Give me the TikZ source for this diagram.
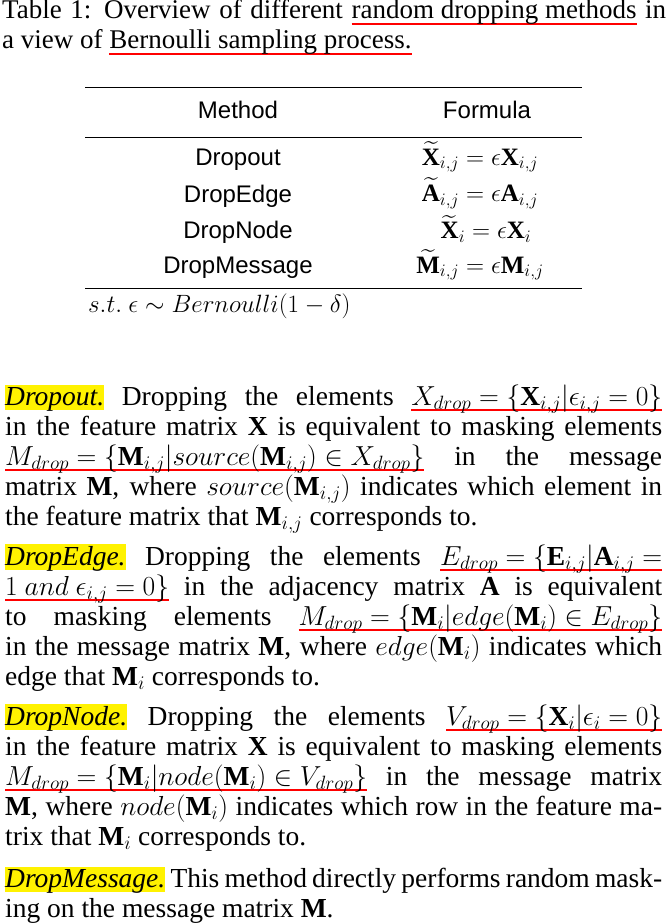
\RequirePackage{fix-cm}
\documentclass[tikz,border=0pt]{standalone}
\usepackage{amsmath}
\usepackage{fontspec}
\setmainfont{Liberation Serif}
\newfontfamily\tabsans{Liberation Sans}
\newcommand\rul[1]{\setbox0\hbox{#1}\rlap{\textcolor{red}{\rule[-6pt]{\wd0}{1.6pt}}}\box0\relax}
\newcommand\hlt[1]{\setbox0\hbox{#1}\rlap{\textcolor{yellow}{\rule[-5pt]{\wd0}{\dimexpr\ht0+7pt}}}\box0\relax}
\tikzset{ln/.style={anchor=base west,inner sep=0pt,font=\fontsize{27.5}{30}\selectfont},
 tb/.style={inner sep=0pt,font=\tabsans\fontsize{24}{28}\selectfont},
 fm/.style={inner sep=0pt,font=\fontsize{25}{28}\selectfont},
 rulel/.style={line width=1pt}}
\newcommand\J[1]{\makebox[657pt][s]{#1}}
\begin{document}
\begin{tikzpicture}[x=1pt,y=-1pt]
\useasboundingbox (0,0) rectangle (670,923);
\fill[white] (0,0) rectangle (670,923);
% caption
\node[ln,font=\fontsize{27}{30}\selectfont] (c1) at (2,19) {\makebox[664pt][s]{Table 1: Overview of different \rul{random dropping methods} in}};
\node[ln,font=\fontsize{27}{30}\selectfont] (c2) at (2,49) {a view of \rul{Bernoulli sampling process.}};
% table
\draw[rulel] (85,88) -- (582,88);
\draw[rulel] (85,137) -- (582,137);
\draw[rulel] (85,288) -- (582,288);
\node[tb] (h1) at (238,110) {Method};
\node[tb] (h2) at (487,110) {Formula};
\node[tb] (m1) at (238,160) {Dropout};
\node[tb] (m2) at (238,196) {DropEdge};
\node[tb] (m3) at (238,232) {DropNode};
\node[tb] (m4) at (238,268) {DropMessage};
\node[fm] (f1) at (480,157) {$\widetilde{\mathbf{X}}_{i,j}=\epsilon\mathbf{X}_{i,j}$};
\node[fm] (f2) at (480,193) {$\widetilde{\mathbf{A}}_{i,j}=\epsilon\mathbf{A}_{i,j}$};
\node[fm] (f3) at (486,229) {$\widetilde{\mathbf{X}}_{i}=\epsilon\mathbf{X}_{i}$};
\node[fm] (f4) at (480,265) {$\widetilde{\mathbf{M}}_{i,j}=\epsilon\mathbf{M}_{i,j}$};
\node[ln,font=\fontsize{25}{28}\selectfont] (st) at (88,312) {$s.t.\ \epsilon\sim Bernoulli(1-\delta)$};
% para 1
\node[ln] (a1) at (5,405) {\J{\hlt{\textit{Dropout.}}\ Dropping the elements \rul{$X_{drop}=\{\mathbf{X}_{i,j}|\epsilon_{i,j}=0\}$}}};
\node[ln] (a2) at (5,435) {\J{in the feature matrix $\mathbf{X}$ is equivalent to masking elements}};
\node[ln] (a3) at (5,465) {\J{\rul{$M_{drop}=\{\mathbf{M}_{i,j}|source(\mathbf{M}_{i,j})\in X_{drop}\}$} in the message}};
\node[ln] (a4) at (5,495) {\J{matrix $\mathbf{M}$, where $source(\mathbf{M}_{i,j})$ indicates which element in}};
\node[ln] (a5) at (5,525) {the feature matrix that $\mathbf{M}_{i,j}$ corresponds to.};
% para 2
\node[ln] (b1) at (5,565) {\J{\hlt{\textit{DropEdge.}}\ Dropping the elements \rul{$E_{drop}=\{\mathbf{E}_{i,j}|\mathbf{A}_{i,j}=$}}};
\node[ln] (b2) at (5,595) {\J{\rul{$1\ and\ \epsilon_{i,j}=0\}$} in the adjacency matrix $\mathbf{A}$ is equivalent}};
\node[ln] (b3) at (5,625) {\J{to masking elements \rul{$M_{drop}=\{\mathbf{M}_i|edge(\mathbf{M}_i)\in E_{drop}\}$}}};
\node[ln] (b4) at (5,655) {\J{in the message matrix $\mathbf{M}$, where $edge(\mathbf{M}_i)$ indicates which}};
\node[ln] (b5) at (5,685) {edge that $\mathbf{M}_i$ corresponds to.};
% para 3
\node[ln] (d1) at (5,725) {\J{\hlt{\textit{DropNode.}}\ Dropping the elements \rul{$V_{drop}=\{\mathbf{X}_i|\epsilon_i=0\}$}}};
\node[ln] (d2) at (5,755) {\J{in the feature matrix $\mathbf{X}$ is equivalent to masking elements}};
\node[ln] (d3) at (5,785) {\J{\rul{$M_{drop}=\{\mathbf{M}_i|node(\mathbf{M}_i)\in V_{drop}\}$} in the message matrix}};
\node[ln] (d4) at (5,815) {\J{$\mathbf{M}$, where $node(\mathbf{M}_i)$ indicates which row in the feature ma-}};
\node[ln] (d5) at (5,845) {trix that $\mathbf{M}_i$ corresponds to.};
% para 4
\node[ln] (e1) at (5,887) {\J{\hlt{\textit{DropMessage.}}\ This method directly performs random mask-}};
\node[ln] (e2) at (5,917) {ing on the message matrix $\mathbf{M}$.};
\end{tikzpicture}
\end{document}
